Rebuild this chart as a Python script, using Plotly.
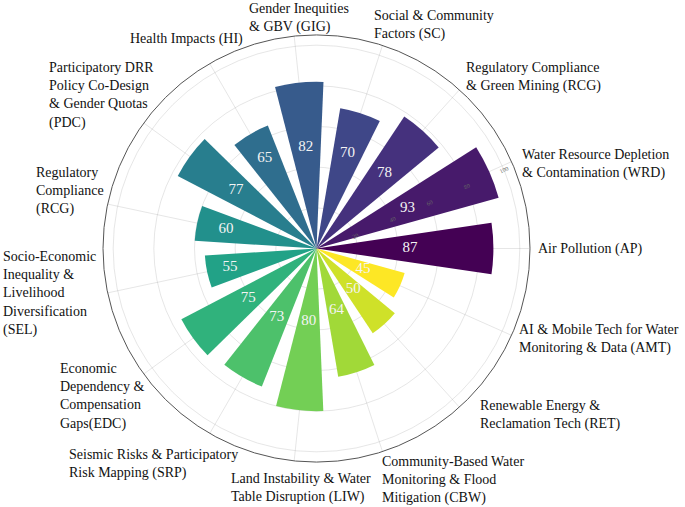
import plotly.graph_objects as go
from plotly.colors import sample_colorscale

# ---------------- data ----------------
categories = [
    "Air Pollution (AP)",
    "Water Resource Depletion<br>& Contamination (WRD)",
    "Regulatory Compliance<br>& Green Mining (RCG)",
    "Social & Community<br>Factors (SC)",
    "Gender Inequities<br>& GBV (GIG)",
    "Health Impacts (HI)",
    "Participatory DRR<br>Policy Co-Design<br>& Gender Quotas<br>(PDC)",
    "Regulatory<br>Compliance<br>(RCG)",
    "Socio-Economic<br>Inequality &<br>Livelihood<br>Diversification<br>(SEL)",
    "Economic<br>Dependency &<br>Compensation<br>Gaps(EDC)",
    "Seismic Risks & Participatory<br>Risk Mapping (SRP)",
    "Land Instability & Water<br>Table Disruption (LIW)",
    "Community-Based Water<br>Monitoring & Flood<br>Mitigation (CBW)",
    "Renewable Energy &<br>Reclamation Tech (RET)",
    "AI & Mobile Tech for Water<br>Monitoring & Data (AMT)",
]
values = [87, 93, 78, 70, 82, 65, 77, 60, 55, 75, 73, 80, 64, 50, 45]
radial_ticks = [20, 40, 60, 80, 100]

# ---------------- layout / style ----------------
W, H = 685, 507
n = len(values)
step = 360 / n
theta = [i * step for i in range(n)]
colors = sample_colorscale("Viridis", [i / (n - 1) for i in range(n)])

# radial position of each value label (style)
value_label_r = [46, 49, 50, 49.5, 50, 51, 49, 45.5, 43.5, 41.5, 39, 36, 32, 27, 25]

# label box placement in pixels: (left x, vertical centre y)
label_px = [
    (536, 249), (520, 164), (464, 77), (372, 25), (247, 18),
    (128, 39), (47, 96), (34, 191), (1, 293), (58, 396),
    (67, 464), (229, 488), (380, 480), (478, 415), (517, 339),
]

SERIF = "Times New Roman"

fig = go.Figure()
fig.add_trace(go.Barpolar(
    r=values, theta=theta, width=[step * 0.7] * n,
    marker=dict(color=colors, line=dict(width=0)),
    hoverinfo="skip", showlegend=False,
))
fig.add_trace(go.Scatterpolar(
    r=value_label_r, theta=theta, mode="text",
    text=[str(v) for v in values],
    textfont=dict(family=SERIF, size=15, color="#f4f4f4"),
    hoverinfo="skip", showlegend=False,
))

grid = "rgba(128,128,128,0.2)"
fig.update_layout(
    width=W, height=H,
    margin=dict(l=0, r=0, t=0, b=0),
    paper_bgcolor="white",
    polar=dict(
        domain=dict(x=[103 / W, 530 / W], y=[1 - 462 / H, 1 - 35 / H]),
        bgcolor="white",
        angularaxis=dict(
            rotation=0, direction="counterclockwise",
            tickmode="array", tickvals=theta, showticklabels=False,
            ticks="", gridcolor=grid, gridwidth=1,
            showline=True, linecolor="#555", linewidth=1,
            layer="above traces",
        ),
        radialaxis=dict(
            range=[0, 105], tickvals=radial_ticks, angle=step,
            tickfont=dict(size=6, color="#666", family=SERIF),
            showline=False, ticks="", gridcolor=grid, gridwidth=1,
            layer="above traces",
        ),
    ),
    font=dict(family=SERIF),
)

for txt, (px, py) in zip(categories, label_px):
    fig.add_annotation(
        x=px / W, y=1 - py / H, xref="paper", yref="paper",
        text=txt, showarrow=False, xanchor="left", yanchor="middle",
        align="left", font=dict(family=SERIF, size=14, color="#111"),
    )

fig.write_html("out.html")
